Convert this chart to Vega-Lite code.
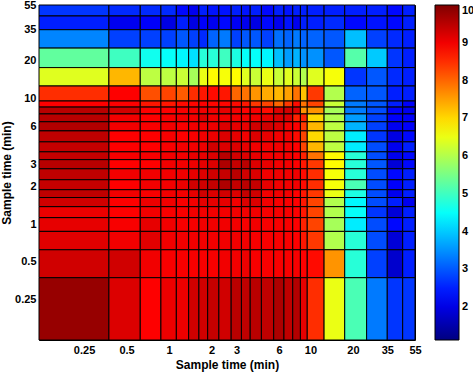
{
"$schema":"https://vega.github.io/schema/vega-lite/v6.json",
"width":376,"height":335,
"autosize":"none",
"padding":{"left":39,"top":5,"right":58,"bottom":33},
"background":"white",
"config":{"view":{"stroke":"black","strokeWidth":1},"axis":{"labelFont":"Liberation Sans","labelFontWeight":"bold","labelFontSize":11,"labelColor":"black","titleFont":"Liberation Sans","titleFontWeight":"bold","titleFontSize":12,"titleColor":"black","ticks":false,"domain":false,"grid":false,"labelFlush":false,"labelOverlap":false}},
"datasets":{"bins":[
{"t":0.25,"lo":0.12,"hi":0.375},{"t":0.5,"lo":0.375,"hi":0.625},{"t":0.75,"lo":0.625,"hi":0.875},{"t":1,"lo":0.875,"hi":1.125},{"t":1.25,"lo":1.125,"hi":1.375},{"t":1.5,"lo":1.375,"hi":1.625},{"t":1.75,"lo":1.625,"hi":1.875},{"t":2,"lo":1.875,"hi":2.25},{"t":2.5,"lo":2.25,"hi":2.75},{"t":3,"lo":2.75,"hi":3.25},{"t":3.5,"lo":3.25,"hi":3.75},{"t":4,"lo":3.75,"hi":4.5},{"t":5,"lo":4.5,"hi":5.5},{"t":6,"lo":5.5,"hi":6.5},{"t":7,"lo":6.5,"hi":7.5},{"t":8,"lo":7.5,"hi":8.5},{"t":9,"lo":8.5,"hi":9.5},{"t":10,"lo":9.5,"hi":12.5},{"t":15,"lo":12.5,"hi":17.5},{"t":20,"lo":17.5,"hi":25},{"t":30,"lo":25,"hi":35},{"t":40,"lo":35,"hi":45},{"t":50,"lo":45,"hi":55}
]},
"data":{"values":[
{"y":50,"x":0.25,"v":2.7},{"y":50,"x":0.5,"v":2.6},{"y":50,"x":0.75,"v":2.6},{"y":50,"x":1,"v":2.6},{"y":50,"x":1.25,"v":2.3},{"y":50,"x":1.5,"v":2.1},{"y":50,"x":1.75,"v":2.5},{"y":50,"x":2,"v":2.4},{"y":50,"x":2.5,"v":2.4},{"y":50,"x":3,"v":2.5},{"y":50,"x":3.5,"v":2.4},{"y":50,"x":4,"v":2.5},{"y":50,"x":5,"v":2.3},{"y":50,"x":6,"v":2.5},{"y":50,"x":7,"v":2.4},{"y":50,"x":8,"v":2.5},{"y":50,"x":9,"v":2.5},{"y":50,"x":10,"v":2.5},{"y":50,"x":15,"v":2.5},{"y":50,"x":20,"v":2.5},{"y":50,"x":30,"v":2.5},{"y":50,"x":40,"v":2.3},{"y":50,"x":50,"v":2.5},
{"y":40,"x":0.25,"v":2.5},{"y":40,"x":0.5,"v":2.1},{"y":40,"x":0.75,"v":2.2},{"y":40,"x":1,"v":2.0},{"y":40,"x":1.25,"v":2.5},{"y":40,"x":1.5,"v":2.0},{"y":40,"x":1.75,"v":2.2},{"y":40,"x":2,"v":2.1},{"y":40,"x":2.5,"v":2.3},{"y":40,"x":3,"v":2.15},{"y":40,"x":3.5,"v":2.1},{"y":40,"x":4,"v":2.0},{"y":40,"x":5,"v":2.3},{"y":40,"x":6,"v":2.1},{"y":40,"x":7,"v":2.4},{"y":40,"x":8,"v":2.1},{"y":40,"x":9,"v":2.5},{"y":40,"x":10,"v":2.5},{"y":40,"x":15,"v":2.6},{"y":40,"x":20,"v":2.3},{"y":40,"x":30,"v":2.4},{"y":40,"x":40,"v":2.3},{"y":40,"x":50,"v":2.5},
{"y":30,"x":0.25,"v":3.4},{"y":30,"x":0.5,"v":2.8},{"y":30,"x":0.75,"v":2.8},{"y":30,"x":1,"v":2.8},{"y":30,"x":1.25,"v":3.0},{"y":30,"x":1.5,"v":2.8},{"y":30,"x":1.75,"v":2.6},{"y":30,"x":2,"v":3.1},{"y":30,"x":2.5,"v":3.3},{"y":30,"x":3,"v":2.8},{"y":30,"x":3.5,"v":3.0},{"y":30,"x":4,"v":3.0},{"y":30,"x":5,"v":2.8},{"y":30,"x":6,"v":3.2},{"y":30,"x":7,"v":3.1},{"y":30,"x":8,"v":3.3},{"y":30,"x":9,"v":3.1},{"y":30,"x":10,"v":3.1},{"y":30,"x":15,"v":3.0},{"y":30,"x":20,"v":3.9},{"y":30,"x":30,"v":2.8},{"y":30,"x":40,"v":2.6},{"y":30,"x":50,"v":2.5},
{"y":20,"x":0.25,"v":5.3},{"y":20,"x":0.5,"v":5.0},{"y":20,"x":0.75,"v":4.6},{"y":20,"x":1,"v":4.5},{"y":20,"x":1.25,"v":4.4},{"y":20,"x":1.5,"v":4.2},{"y":20,"x":1.75,"v":4.8},{"y":20,"x":2,"v":4.8},{"y":20,"x":2.5,"v":5.0},{"y":20,"x":3,"v":4.7},{"y":20,"x":3.5,"v":4.5},{"y":20,"x":4,"v":4.5},{"y":20,"x":5,"v":4.4},{"y":20,"x":6,"v":3.9},{"y":20,"x":7,"v":3.6},{"y":20,"x":8,"v":3.8},{"y":20,"x":9,"v":3.5},{"y":20,"x":10,"v":3.5},{"y":20,"x":15,"v":3.0},{"y":20,"x":20,"v":5.2},{"y":20,"x":30,"v":4.0},{"y":20,"x":40,"v":2.7},{"y":20,"x":50,"v":2.5},
{"y":15,"x":0.25,"v":6.4},{"y":15,"x":0.5,"v":7.3},{"y":15,"x":0.75,"v":6.1},{"y":15,"x":1,"v":6.1},{"y":15,"x":1.25,"v":6.2},{"y":15,"x":1.5,"v":5.9},{"y":15,"x":1.75,"v":6.5},{"y":15,"x":2,"v":6.7},{"y":15,"x":2.5,"v":6.6},{"y":15,"x":3,"v":6.7},{"y":15,"x":3.5,"v":6.4},{"y":15,"x":4,"v":6.2},{"y":15,"x":5,"v":6.5},{"y":15,"x":6,"v":6.2},{"y":15,"x":7,"v":6.4},{"y":15,"x":8,"v":6.2},{"y":15,"x":9,"v":6.0},{"y":15,"x":10,"v":6.4},{"y":15,"x":15,"v":6.6},{"y":15,"x":20,"v":2.7},{"y":15,"x":30,"v":3.0},{"y":15,"x":40,"v":2.6},{"y":15,"x":50,"v":2.5},
{"y":10,"x":0.25,"v":8.5},{"y":10,"x":0.5,"v":8.9},{"y":10,"x":0.75,"v":8.2},{"y":10,"x":1,"v":8.3},{"y":10,"x":1.25,"v":8.1},{"y":10,"x":1.5,"v":8.5},{"y":10,"x":1.75,"v":8.7},{"y":10,"x":2,"v":8.8},{"y":10,"x":2.5,"v":8.7},{"y":10,"x":3,"v":8.0},{"y":10,"x":3.5,"v":7.9},{"y":10,"x":4,"v":7.6},{"y":10,"x":5,"v":7.4},{"y":10,"x":6,"v":7.3},{"y":10,"x":7,"v":7.5},{"y":10,"x":8,"v":7.9},{"y":10,"x":9,"v":7.2},{"y":10,"x":10,"v":8.4},{"y":10,"x":15,"v":6.0},{"y":10,"x":20,"v":3.1},{"y":10,"x":30,"v":3.0},{"y":10,"x":40,"v":2.5},{"y":10,"x":50,"v":2.5},
{"y":9,"x":0.25,"v":8.9},{"y":9,"x":0.5,"v":8.9},{"y":9,"x":0.75,"v":8.7},{"y":9,"x":1,"v":8.7},{"y":9,"x":1.25,"v":8.8},{"y":9,"x":1.5,"v":8.85},{"y":9,"x":1.75,"v":8.9},{"y":9,"x":2,"v":8.85},{"y":9,"x":2.5,"v":8.85},{"y":9,"x":3,"v":8.8},{"y":9,"x":3.5,"v":8.7},{"y":9,"x":4,"v":8.4},{"y":9,"x":5,"v":8.3},{"y":9,"x":6,"v":8.0},{"y":9,"x":7,"v":8.4},{"y":9,"x":8,"v":8.8},{"y":9,"x":9,"v":7.9},{"y":9,"x":10,"v":8.3},{"y":9,"x":15,"v":6.2},{"y":9,"x":20,"v":3.3},{"y":9,"x":30,"v":3.0},{"y":9,"x":40,"v":2.5},{"y":9,"x":50,"v":2.2},
{"y":8,"x":0.25,"v":9.5},{"y":8,"x":0.5,"v":9.3},{"y":8,"x":0.75,"v":8.9},{"y":8,"x":1,"v":8.9},{"y":8,"x":1.25,"v":8.95},{"y":8,"x":1.5,"v":9.0},{"y":8,"x":1.75,"v":9.0},{"y":8,"x":2,"v":9.0},{"y":8,"x":2.5,"v":9.1},{"y":8,"x":3,"v":9.0},{"y":8,"x":3.5,"v":8.9},{"y":8,"x":4,"v":8.95},{"y":8,"x":5,"v":8.8},{"y":8,"x":6,"v":9.2},{"y":8,"x":7,"v":9.3},{"y":8,"x":8,"v":9.2},{"y":8,"x":9,"v":7.6},{"y":8,"x":10,"v":7.6},{"y":8,"x":15,"v":5.9},{"y":8,"x":20,"v":3.3},{"y":8,"x":30,"v":2.9},{"y":8,"x":40,"v":2.2},{"y":8,"x":50,"v":2.1},
{"y":7,"x":0.25,"v":9.5},{"y":7,"x":0.5,"v":9.0},{"y":7,"x":0.75,"v":8.9},{"y":7,"x":1,"v":8.95},{"y":7,"x":1.25,"v":9.0},{"y":7,"x":1.5,"v":9.0},{"y":7,"x":1.75,"v":9.2},{"y":7,"x":2,"v":9.0},{"y":7,"x":2.5,"v":9.0},{"y":7,"x":3,"v":9.0},{"y":7,"x":3.5,"v":9.0},{"y":7,"x":4,"v":9.0},{"y":7,"x":5,"v":9.1},{"y":7,"x":6,"v":9.2},{"y":7,"x":7,"v":9.2},{"y":7,"x":8,"v":8.6},{"y":7,"x":9,"v":8.6},{"y":7,"x":10,"v":7.0},{"y":7,"x":15,"v":6.0},{"y":7,"x":20,"v":3.6},{"y":7,"x":30,"v":2.8},{"y":7,"x":40,"v":2.2},{"y":7,"x":50,"v":2.2},
{"y":6,"x":0.25,"v":9.55},{"y":6,"x":0.5,"v":9.0},{"y":6,"x":0.75,"v":8.95},{"y":6,"x":1,"v":9.0},{"y":6,"x":1.25,"v":8.95},{"y":6,"x":1.5,"v":9.0},{"y":6,"x":1.75,"v":9.0},{"y":6,"x":2,"v":9.05},{"y":6,"x":2.5,"v":9.2},{"y":6,"x":3,"v":9.1},{"y":6,"x":3.5,"v":9.1},{"y":6,"x":4,"v":9.3},{"y":6,"x":5,"v":9.3},{"y":6,"x":6,"v":9.2},{"y":6,"x":7,"v":9.0},{"y":6,"x":8,"v":8.9},{"y":6,"x":9,"v":8.4},{"y":6,"x":10,"v":7.3},{"y":6,"x":15,"v":6.1},{"y":6,"x":20,"v":3.8},{"y":6,"x":30,"v":2.8},{"y":6,"x":40,"v":2.1},{"y":6,"x":50,"v":2.2},
{"y":5,"x":0.25,"v":9.45},{"y":5,"x":0.5,"v":8.9},{"y":5,"x":0.75,"v":8.9},{"y":5,"x":1,"v":8.95},{"y":5,"x":1.25,"v":8.9},{"y":5,"x":1.5,"v":8.95},{"y":5,"x":1.75,"v":9.0},{"y":5,"x":2,"v":9.05},{"y":5,"x":2.5,"v":9.2},{"y":5,"x":3,"v":9.1},{"y":5,"x":3.5,"v":9.0},{"y":5,"x":4,"v":9.2},{"y":5,"x":5,"v":9.1},{"y":5,"x":6,"v":9.0},{"y":5,"x":7,"v":9.0},{"y":5,"x":8,"v":8.8},{"y":5,"x":9,"v":8.3},{"y":5,"x":10,"v":7.0},{"y":5,"x":15,"v":6.1},{"y":5,"x":20,"v":4.3},{"y":5,"x":30,"v":2.7},{"y":5,"x":40,"v":2.0},{"y":5,"x":50,"v":2.3},
{"y":4,"x":0.25,"v":9.4},{"y":4,"x":0.5,"v":8.9},{"y":4,"x":0.75,"v":8.9},{"y":4,"x":1,"v":8.95},{"y":4,"x":1.25,"v":9.0},{"y":4,"x":1.5,"v":9.0},{"y":4,"x":1.75,"v":9.05},{"y":4,"x":2,"v":9.3},{"y":4,"x":2.5,"v":9.2},{"y":4,"x":3,"v":9.2},{"y":4,"x":3.5,"v":9.1},{"y":4,"x":4,"v":9.0},{"y":4,"x":5,"v":9.0},{"y":4,"x":6,"v":9.0},{"y":4,"x":7,"v":9.0},{"y":4,"x":8,"v":8.9},{"y":4,"x":9,"v":8.3},{"y":4,"x":10,"v":7.3},{"y":4,"x":15,"v":6.1},{"y":4,"x":20,"v":4.3},{"y":4,"x":30,"v":2.9},{"y":4,"x":40,"v":2.1},{"y":4,"x":50,"v":2.5},
{"y":3.5,"x":0.25,"v":9.4},{"y":3.5,"x":0.5,"v":8.95},{"y":3.5,"x":0.75,"v":8.95},{"y":3.5,"x":1,"v":9.0},{"y":3.5,"x":1.25,"v":9.0},{"y":3.5,"x":1.5,"v":9.1},{"y":3.5,"x":1.75,"v":9.1},{"y":3.5,"x":2,"v":9.2},{"y":3.5,"x":2.5,"v":9.5},{"y":3.5,"x":3,"v":9.3},{"y":3.5,"x":3.5,"v":9.2},{"y":3.5,"x":4,"v":9.1},{"y":3.5,"x":5,"v":9.0},{"y":3.5,"x":6,"v":9.0},{"y":3.5,"x":7,"v":9.0},{"y":3.5,"x":8,"v":8.9},{"y":3.5,"x":9,"v":8.6},{"y":3.5,"x":10,"v":7.9},{"y":3.5,"x":15,"v":6.7},{"y":3.5,"x":20,"v":4.8},{"y":3.5,"x":30,"v":2.9},{"y":3.5,"x":40,"v":2.1},{"y":3.5,"x":50,"v":2.3},
{"y":3,"x":0.25,"v":9.5},{"y":3,"x":0.5,"v":8.9},{"y":3,"x":0.75,"v":8.9},{"y":3,"x":1,"v":9.0},{"y":3,"x":1.25,"v":9.0},{"y":3,"x":1.5,"v":9.05},{"y":3,"x":1.75,"v":9.1},{"y":3,"x":2,"v":9.2},{"y":3,"x":2.5,"v":9.6},{"y":3,"x":3,"v":9.4},{"y":3,"x":3.5,"v":9.5},{"y":3,"x":4,"v":9.2},{"y":3,"x":5,"v":9.1},{"y":3,"x":6,"v":9.0},{"y":3,"x":7,"v":9.0},{"y":3,"x":8,"v":8.9},{"y":3,"x":9,"v":8.7},{"y":3,"x":10,"v":8.4},{"y":3,"x":15,"v":6.7},{"y":3,"x":20,"v":4.8},{"y":3,"x":30,"v":3.0},{"y":3,"x":40,"v":1.9},{"y":3,"x":50,"v":2.3},
{"y":2.5,"x":0.25,"v":9.45},{"y":2.5,"x":0.5,"v":9.0},{"y":2.5,"x":0.75,"v":9.0},{"y":2.5,"x":1,"v":9.0},{"y":2.5,"x":1.25,"v":9.0},{"y":2.5,"x":1.5,"v":9.1},{"y":2.5,"x":1.75,"v":9.2},{"y":2.5,"x":2,"v":9.3},{"y":2.5,"x":2.5,"v":9.4},{"y":2.5,"x":3,"v":9.5},{"y":2.5,"x":3.5,"v":9.3},{"y":2.5,"x":4,"v":9.2},{"y":2.5,"x":5,"v":9.0},{"y":2.5,"x":6,"v":9.0},{"y":2.5,"x":7,"v":9.0},{"y":2.5,"x":8,"v":9.0},{"y":2.5,"x":9,"v":8.8},{"y":2.5,"x":10,"v":8.5},{"y":2.5,"x":15,"v":6.6},{"y":2.5,"x":20,"v":4.8},{"y":2.5,"x":30,"v":2.9},{"y":2.5,"x":40,"v":2.3},{"y":2.5,"x":50,"v":2.5},
{"y":2,"x":0.25,"v":9.4},{"y":2,"x":0.5,"v":8.9},{"y":2,"x":0.75,"v":9.0},{"y":2,"x":1,"v":9.0},{"y":2,"x":1.25,"v":9.05},{"y":2,"x":1.5,"v":9.3},{"y":2,"x":1.75,"v":9.3},{"y":2,"x":2,"v":9.4},{"y":2,"x":2.5,"v":9.6},{"y":2,"x":3,"v":9.4},{"y":2,"x":3.5,"v":9.5},{"y":2,"x":4,"v":9.4},{"y":2,"x":5,"v":9.1},{"y":2,"x":6,"v":9.0},{"y":2,"x":7,"v":9.0},{"y":2,"x":8,"v":9.0},{"y":2,"x":9,"v":8.8},{"y":2,"x":10,"v":8.5},{"y":2,"x":15,"v":6.6},{"y":2,"x":20,"v":5.1},{"y":2,"x":30,"v":2.9},{"y":2,"x":40,"v":2.2},{"y":2,"x":50,"v":2.5},
{"y":1.75,"x":0.25,"v":9.45},{"y":1.75,"x":0.5,"v":9.0},{"y":1.75,"x":0.75,"v":8.95},{"y":1.75,"x":1,"v":9.0},{"y":1.75,"x":1.25,"v":9.0},{"y":1.75,"x":1.5,"v":9.1},{"y":1.75,"x":1.75,"v":9.3},{"y":1.75,"x":2,"v":9.2},{"y":1.75,"x":2.5,"v":9.3},{"y":1.75,"x":3,"v":9.2},{"y":1.75,"x":3.5,"v":9.4},{"y":1.75,"x":4,"v":9.3},{"y":1.75,"x":5,"v":9.0},{"y":1.75,"x":6,"v":9.0},{"y":1.75,"x":7,"v":9.0},{"y":1.75,"x":8,"v":8.9},{"y":1.75,"x":9,"v":8.7},{"y":1.75,"x":10,"v":8.4},{"y":1.75,"x":15,"v":6.5},{"y":1.75,"x":20,"v":4.7},{"y":1.75,"x":30,"v":2.9},{"y":1.75,"x":40,"v":2.1},{"y":1.75,"x":50,"v":2.5},
{"y":1.5,"x":0.25,"v":9.3},{"y":1.5,"x":0.5,"v":8.9},{"y":1.5,"x":0.75,"v":9.05},{"y":1.5,"x":1,"v":9.0},{"y":1.5,"x":1.25,"v":8.95},{"y":1.5,"x":1.5,"v":9.0},{"y":1.5,"x":1.75,"v":9.1},{"y":1.5,"x":2,"v":9.1},{"y":1.5,"x":2.5,"v":9.1},{"y":1.5,"x":3,"v":9.0},{"y":1.5,"x":3.5,"v":9.2},{"y":1.5,"x":4,"v":9.2},{"y":1.5,"x":5,"v":9.0},{"y":1.5,"x":6,"v":8.95},{"y":1.5,"x":7,"v":8.95},{"y":1.5,"x":8,"v":8.9},{"y":1.5,"x":9,"v":8.7},{"y":1.5,"x":10,"v":8.3},{"y":1.5,"x":15,"v":6.0},{"y":1.5,"x":20,"v":4.4},{"y":1.5,"x":30,"v":2.9},{"y":1.5,"x":40,"v":2.5},{"y":1.5,"x":50,"v":2.1},
{"y":1.25,"x":0.25,"v":9.05},{"y":1.25,"x":0.5,"v":8.9},{"y":1.25,"x":0.75,"v":9.0},{"y":1.25,"x":1,"v":8.95},{"y":1.25,"x":1.25,"v":8.95},{"y":1.25,"x":1.5,"v":9.0},{"y":1.25,"x":1.75,"v":9.0},{"y":1.25,"x":2,"v":9.0},{"y":1.25,"x":2.5,"v":9.0},{"y":1.25,"x":3,"v":9.0},{"y":1.25,"x":3.5,"v":9.0},{"y":1.25,"x":4,"v":9.0},{"y":1.25,"x":5,"v":8.95},{"y":1.25,"x":6,"v":8.95},{"y":1.25,"x":7,"v":8.95},{"y":1.25,"x":8,"v":8.9},{"y":1.25,"x":9,"v":8.7},{"y":1.25,"x":10,"v":8.3},{"y":1.25,"x":15,"v":6.0},{"y":1.25,"x":20,"v":4.5},{"y":1.25,"x":30,"v":2.7},{"y":1.25,"x":40,"v":1.9},{"y":1.25,"x":50,"v":2.5},
{"y":1,"x":0.25,"v":9.1},{"y":1,"x":0.5,"v":8.95},{"y":1,"x":0.75,"v":9.1},{"y":1,"x":1,"v":9.0},{"y":1,"x":1.25,"v":8.95},{"y":1,"x":1.5,"v":8.95},{"y":1,"x":1.75,"v":9.0},{"y":1,"x":2,"v":9.0},{"y":1,"x":2.5,"v":9.0},{"y":1,"x":3,"v":9.0},{"y":1,"x":3.5,"v":8.95},{"y":1,"x":4,"v":9.0},{"y":1,"x":5,"v":8.95},{"y":1,"x":6,"v":8.95},{"y":1,"x":7,"v":8.95},{"y":1,"x":8,"v":8.9},{"y":1,"x":9,"v":8.6},{"y":1,"x":10,"v":8.3},{"y":1,"x":15,"v":5.9},{"y":1,"x":20,"v":4.3},{"y":1,"x":30,"v":2.9},{"y":1,"x":40,"v":2.3},{"y":1,"x":50,"v":2.5},
{"y":0.75,"x":0.25,"v":9.15},{"y":0.75,"x":0.5,"v":9.0},{"y":0.75,"x":0.75,"v":9.15},{"y":0.75,"x":1,"v":9.0},{"y":0.75,"x":1.25,"v":9.0},{"y":0.75,"x":1.5,"v":9.0},{"y":0.75,"x":1.75,"v":9.0},{"y":0.75,"x":2,"v":9.0},{"y":0.75,"x":2.5,"v":9.0},{"y":0.75,"x":3,"v":9.0},{"y":0.75,"x":3.5,"v":9.0},{"y":0.75,"x":4,"v":8.95},{"y":0.75,"x":5,"v":8.95},{"y":0.75,"x":6,"v":8.95},{"y":0.75,"x":7,"v":8.95},{"y":0.75,"x":8,"v":8.9},{"y":0.75,"x":9,"v":8.7},{"y":0.75,"x":10,"v":8.4},{"y":0.75,"x":15,"v":6.0},{"y":0.75,"x":20,"v":4.8},{"y":0.75,"x":30,"v":2.9},{"y":0.75,"x":40,"v":1.9},{"y":0.75,"x":50,"v":2.5},
{"y":0.5,"x":0.25,"v":9.3},{"y":0.5,"x":0.5,"v":9.3},{"y":0.5,"x":0.75,"v":9.0},{"y":0.5,"x":1,"v":8.95},{"y":0.5,"x":1.25,"v":8.95},{"y":0.5,"x":1.5,"v":8.95},{"y":0.5,"x":1.75,"v":8.95},{"y":0.5,"x":2,"v":8.95},{"y":0.5,"x":2.5,"v":9.0},{"y":0.5,"x":3,"v":9.0},{"y":0.5,"x":3.5,"v":9.05},{"y":0.5,"x":4,"v":8.95},{"y":0.5,"x":5,"v":8.95},{"y":0.5,"x":6,"v":8.95},{"y":0.5,"x":7,"v":8.95},{"y":0.5,"x":8,"v":8.95},{"y":0.5,"x":9,"v":8.9},{"y":0.5,"x":10,"v":8.8},{"y":0.5,"x":15,"v":7.6},{"y":0.5,"x":20,"v":4.8},{"y":0.5,"x":30,"v":2.8},{"y":0.5,"x":40,"v":1.8},{"y":0.5,"x":50,"v":2.5},
{"y":0.25,"x":0.25,"v":9.8},{"y":0.25,"x":0.5,"v":9.2},{"y":0.25,"x":0.75,"v":8.9},{"y":0.25,"x":1,"v":9.05},{"y":0.25,"x":1.25,"v":9.05},{"y":0.25,"x":1.5,"v":9.3},{"y":0.25,"x":1.75,"v":9.3},{"y":0.25,"x":2,"v":9.4},{"y":0.25,"x":2.5,"v":9.3},{"y":0.25,"x":3,"v":9.5},{"y":0.25,"x":3.5,"v":9.45},{"y":0.25,"x":4,"v":9.5},{"y":0.25,"x":5,"v":9.45},{"y":0.25,"x":6,"v":9.6},{"y":0.25,"x":7,"v":9.45},{"y":0.25,"x":8,"v":9.55},{"y":0.25,"x":9,"v":9.1},{"y":0.25,"x":10,"v":8.5},{"y":0.25,"x":15,"v":6.5},{"y":0.25,"x":20,"v":5.1},{"y":0.25,"x":30,"v":3.3},{"y":0.25,"x":40,"v":2.7},{"y":0.25,"x":50,"v":2.7}
]},
"transform":[
{"lookup":"x","from":{"data":{"name":"bins"},"key":"t","fields":["lo","hi"]},"as":["x0","x1"]},
{"lookup":"y","from":{"data":{"name":"bins"},"key":"t","fields":["lo","hi"]},"as":["y0","y1"]}
],
"mark":{"type":"rect","stroke":"black","strokeWidth":1},
"encoding":{
"x":{"field":"x0","type":"quantitative","scale":{"type":"log","domain":[0.12,55],"nice":false},"axis":{"values":[0.25,0.5,1,2,3,6,10,20,35,55],"labelExpr":"''+datum.value","title":"Sample time (min)","labelPadding":4,"titlePadding":4}},
"x2":{"field":"x1"},
"y":{"field":"y0","type":"quantitative","scale":{"type":"log","domain":[0.12,55],"nice":false},"axis":{"values":[0.25,0.5,1,2,3,6,10,20,35,55],"labelExpr":"''+datum.value","title":"Sample time (min)","labelPadding":3,"titlePadding":1}},
"y2":{"field":"y1"},
"color":{"field":"v","type":"quantitative","scale":{"type":"linear","domain":[1.13,2.24,4.46,6.67,8.89,10],"range":["#000080","#0000ff","#00ffff","#ffff00","#ff0000","#800000"],"interpolate":"rgb"},
"legend":{"orient":"none","legendX":396,"legendY":0,"direction":"vertical","title":null,"gradientLength":335,"gradientThickness":24,"gradientStrokeColor":"black","gradientStrokeWidth":1,"values":[2,3,4,5,6,7,8,9,10],"labelFont":"Liberation Sans","labelFontWeight":"bold","labelFontSize":11,"labelColor":"black","labelOffset":3,"labelOverlap":false}}
}
}
